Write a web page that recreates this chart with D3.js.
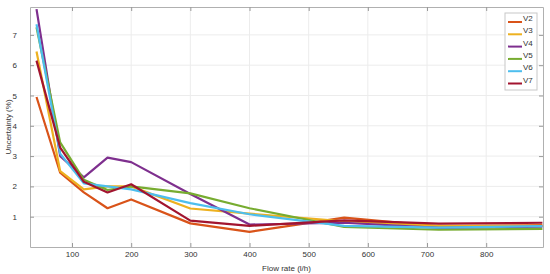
<!DOCTYPE html>
<html>
<head>
    <meta charset="utf-8">
    <style>
        body { margin: 0; background: #fff; }
        text { font-family: "Liberation Sans", Arial, sans-serif; }
    </style>
</head>
<body>
    <svg width="550" height="274"></svg>
    <script src="https://d3js.org/d3.v7.min.js"></script>
    <script>
        let flow = [40, 80, 120, 160, 200, 300, 400, 560, 720, 895];
        let seriesNames = ["V2", "V3", "V4", "V5", "V6", "V7"];
        let v2 = [4.95, 2.45, 1.8, 1.28, 1.57, 0.78, 0.5, 0.97, 0.68, 0.72];
        let v3 = [6.45, 2.5, 1.9, 2.0, 2.0, 1.27, 1.1, 0.85, 0.7, 0.7];
        let v4 = [7.85, 3.0, 2.3, 2.95, 2.8, 1.75, 0.74, 0.8, 0.63, 0.67];
        let v5 = [7.25, 3.45, 2.22, 1.88, 2.0, 1.77, 1.28, 0.66, 0.57, 0.6];
        let v6 = [7.35, 3.08, 2.1, 2.0, 1.9, 1.45, 1.08, 0.7, 0.64, 0.69];
        let v7 = [6.15, 3.28, 2.15, 1.8, 2.07, 0.87, 0.7, 0.88, 0.77, 0.8];
        let xTicks = [100, 200, 300, 400, 500, 600, 700, 800];
        let yTicks = [1, 2, 3, 4, 5, 6, 7];
        let colors = ["#D95319", "#EDB120", "#7E2F8E", "#77AC30", "#4DBEEE", "#A2142F"];

        let series = [v2, v3, v4, v5, v6, v7].map((vals, i) => ({
            name: seriesNames[i],
            points: vals.map((v, j) => ({x: flow[j], y: v}))
        }));

        let mLeft = 30, mRight = 543, mTop = 7, mBottom = 247;
        let x = d3.scaleLinear().domain([29, 896]).range([mLeft, mRight]);
        let y = d3.scaleLinear().domain([0, 7.92]).range([mBottom, mTop]);
        let svg = d3.select("svg");

        // grid
        svg.append("g").selectAll("line").data(xTicks).enter().append("line")
            .attr("x1", d => x(d)).attr("x2", d => x(d))
            .attr("y1", mTop).attr("y2", mBottom)
            .attr("stroke", "#ececec").attr("stroke-width", 1);
        svg.append("g").selectAll("line").data(yTicks).enter().append("line")
            .attr("x1", mLeft).attr("x2", mRight)
            .attr("y1", d => y(d)).attr("y2", d => y(d))
            .attr("stroke", "#ececec").attr("stroke-width", 1);

        // lines
        let line = d3.line().x(d => x(d.x)).y(d => y(d.y));
        svg.append("g").selectAll("path").data(series).enter().append("path")
            .attr("d", d => line(d.points))
            .attr("fill", "none")
            .attr("stroke", (d, i) => colors[i])
            .attr("stroke-width", 2.2)
            .attr("stroke-linejoin", "round");

        // axes (ticks inward, box)
        let axisColor = "#b0b0b0";
        let xb = svg.append("g").attr("transform", `translate(0,${mBottom})`)
            .call(d3.axisBottom(x).tickValues(xTicks).tickSizeInner(-4).tickSizeOuter(0).tickPadding(4));
        let xt = svg.append("g").attr("transform", `translate(0,${mTop})`)
            .call(d3.axisTop(x).tickValues(xTicks).tickSizeInner(-4).tickSizeOuter(0).tickFormat(""));
        let yl = svg.append("g").attr("transform", `translate(${mLeft},0)`)
            .call(d3.axisLeft(y).tickValues(yTicks).tickSizeInner(-4).tickSizeOuter(0).tickPadding(13));
        let yr = svg.append("g").attr("transform", `translate(${mRight},0)`)
            .call(d3.axisRight(y).tickValues(yTicks).tickSizeInner(-4).tickSizeOuter(0).tickFormat(""));
        [xb, xt, yl, yr].forEach(g => {
            g.select(".domain").attr("stroke", axisColor);
            g.selectAll(".tick line").attr("stroke", "#999");
            g.selectAll(".tick text").attr("fill", "#333").style("font-size", "8px");
        });

        svg.append("text")
            .attr("x", (mLeft + mRight) / 2).attr("y", 271)
            .attr("text-anchor", "middle")
            .style("font-size", "8px").attr("fill", "#333")
            .text("Flow rate (l/h)");
        svg.append("text")
            .attr("transform", `translate(11,${(mTop + mBottom) / 2}) rotate(-90)`)
            .attr("text-anchor", "middle")
            .style("font-size", "8px").attr("fill", "#333")
            .text("Uncertainty (%)");

        // legend
        let lg = svg.append("g");
        lg.append("rect")
            .attr("x", 505).attr("y", 13).attr("width", 32).attr("height", 77)
            .attr("fill", "#fff").attr("stroke", "#c8c8c8");
        let items = lg.selectAll("g.item").data(seriesNames).enter().append("g")
            .attr("transform", (d, i) => `translate(0,${21 + i * 12.3})`);
        items.append("line")
            .attr("x1", 508).attr("x2", 522).attr("y1", 1).attr("y2", 1)
            .attr("stroke", (d, i) => colors[i]).attr("stroke-width", 2);
        items.append("text")
            .attr("x", 523).attr("y", 0)
            .style("font-size", "8px").attr("fill", "#333")
            .text(d => d);
    </script>
</body>
</html>
